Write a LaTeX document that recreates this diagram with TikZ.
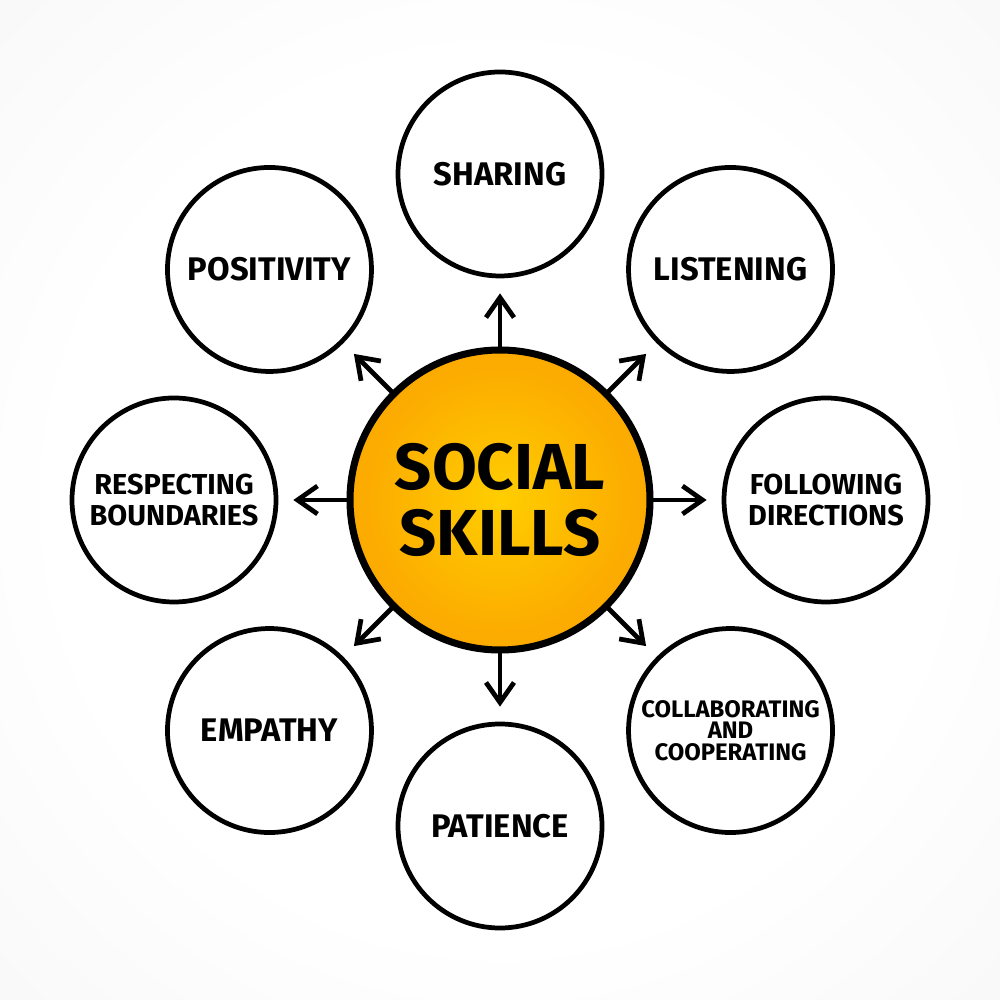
\documentclass[tikz,border=0pt]{standalone}
\usepackage{fontspec}
\setmainfont{Fira Sans}
\usepackage{tikz}
\usetikzlibrary{shapes,arrows.meta,calc}

\definecolor{bggray}{RGB}{232,232,232}
\definecolor{sunyellow}{RGB}{255,206,0}
\definecolor{sunamber}{RGB}{252,172,0}
\definecolor{sunorange}{RGB}{245,150,0}
\pgfdeclareradialshading{paper}{\pgfpoint{0bp}{0bp}}{color(0bp)=(white); color(22bp)=(white); color(71bp)=(bggray)}
\pgfdeclareradialshading{glow}{\pgfpoint{0bp}{0bp}}{color(0bp)=(sunyellow); color(22bp)=(sunamber); color(50bp)=(sunorange)}

\tikzset{
  skill/.style={circle, draw, line width=1.35pt, minimum size=2.04cm, inner sep=0pt, align=center, font=\bfseries\fontsize{9.3}{10}\selectfont},
  hub/.style={circle, draw, line width=2pt, minimum size=3.0cm, inner sep=0pt, align=center, shade, shading=glow, font=\bfseries\fontsize{18.5}{19}\selectfont},
  link/.style={-{Straight Barb[length=2mm, width=2.8mm]}, line width=1.35pt, line cap=round, shorten >=1.5mm},
}

\begin{document}
\begin{tikzpicture}
    \shade[shading=paper] (-5, -5) rectangle (5, 5);
    \useasboundingbox (-5, -5) rectangle (5, 5);

    \node[hub] (social) at (0, 0) {SOCIAL\\SKILLS};

    \node[skill] (sharing) at (90:3.26cm) {SHARING};
    \node[skill] (listening) at (45:3.26cm) {LISTENING};
    \node[skill, font=\bfseries\fontsize{8.2}{8.6}\selectfont] (directions) at (0:3.26cm) {FOLLOWING\\DIRECTIONS};
    \node[skill, font=\bfseries\fontsize{6.8}{6.2}\selectfont] (collaborating) at (-45:3.26cm) {COLLABORATING\\AND\\COOPERATING};
    \node[skill] (patience) at (-90:3.26cm) {PATIENCE};
    \node[skill] (empathy) at (-135:3.26cm) {EMPATHY};
    \node[skill, font=\bfseries\fontsize{8.2}{8.6}\selectfont] (boundaries) at (180:3.26cm) {RESPECTING\\BOUNDARIES};
    \node[skill] (positivity) at (135:3.26cm) {POSITIVITY};

    \draw[link] (social) -- (sharing);
    \draw[link] (social) -- (listening);
    \draw[link] (social) -- (directions);
    \draw[link] (social) -- (collaborating);
    \draw[link] (social) -- (patience);
    \draw[link] (social) -- (empathy);
    \draw[link] (social) -- (boundaries);
    \draw[link] (social) -- (positivity);
  \end{tikzpicture}
\end{document}
